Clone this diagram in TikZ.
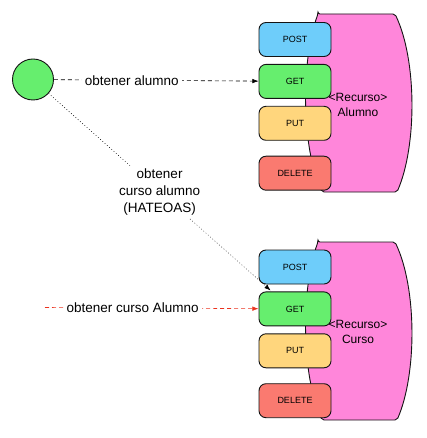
\documentclass[tikz,border=0pt]{standalone}
\usepackage{fontspec}
\setmainfont{Liberation Sans}
\usepackage{tikz}
\usetikzlibrary{arrows.meta,positioning,calc}
\usepackage{xcolor}
\definecolor{cpost}{RGB}{110,205,250}
\definecolor{cget}{RGB}{102,238,110}
\definecolor{cput}{RGB}{255,214,125}
\definecolor{cdel}{RGB}{250,122,112}
\definecolor{cres}{RGB}{255,134,218}
\definecolor{ink}{RGB}{20,20,20}
\definecolor{req}{RGB}{235,50,30}
\tikzset{
  verb/.style={draw=ink,line width=0.9pt,rounded corners=7pt,minimum width=72pt,
    minimum height=34pt,inner sep=0pt,font=\fontsize{9}{10}\selectfont},
  res/.style={draw=ink,line width=0.9pt,fill=cres},
  resname/.style={font=\fontsize{12}{15}\selectfont,align=center,inner sep=0pt},
  lbl/.style={fill=white,inner sep=3pt,font=\fontsize{13.5}{17}\selectfont,align=center},
  call/.style={-{Latex[length=2.2mm,width=1.6mm]},dash pattern=on 4pt off 3pt,line width=0.6pt},
  link/.style={-{Latex[length=2.2mm,width=1.6mm]},dash pattern=on 0.8pt off 2.2pt,line width=0.5pt},
}

\begin{document}
\begin{tikzpicture}[x=1pt,y=-1pt,node distance=7pt]
  \useasboundingbox (0,0) rectangle (427,438);
  % resources
  \draw[res,rounded corners=2pt] (318,14) -- (395,14) .. controls (417,60) and (417,146) .. (397,192)
    -- (322,192) .. controls (301,146) and (301,60) .. (318,14) -- cycle;
  \draw[res,rounded corners=2pt] (318,242) -- (395,242) .. controls (417,288) and (417,374) .. (397,420)
    -- (322,420) .. controls (301,374) and (301,288) .. (318,242) -- cycle;

  % client
  \node[circle,draw=ink,line width=0.9pt,fill=cget,minimum size=41pt] (actor) at (33,79.5) {};

  % verbs, Alumno
  \node[verb,fill=cpost] (post1) at (295,39.5) {POST};
  \node[verb,fill=cget,below=of post1] (get1) {GET};
  \node[verb,fill=cput,below=of get1] (put1) {PUT};
  \node[verb,fill=cdel,below=15pt of put1] (del1) {DELETE};
  \node[resname] (alumno) at (358,105) {<Recurso>\\Alumno};

  % verbs, Curso
  \node[verb,fill=cpost] (post2) at (295,267) {POST};
  \node[verb,fill=cget,below=of post2] (get2) {GET};
  \node[verb,fill=cput,below=of get2] (put2) {PUT};
  \node[verb,fill=cdel,below=15pt of put2] (del2) {DELETE};
  \node[resname] (curso) at (358,332) {<Recurso>\\Curso};

  \coordinate (from) at (45,307.5);

  % edges
  \draw[call] (actor) -- node[lbl,pos=0.38] {obtener alumno} (get1);
  \draw[call,req] (from) -- node[lbl,pos=0.41,text=black] {obtener curso Alumno} (get2);
  \draw[link] (actor) -- node[lbl,pos=0.5] {obtener\\curso alumno\\(HATEOAS)}
    ($(get2.north west)+(12,-1)$);
\end{tikzpicture}
\end{document}
